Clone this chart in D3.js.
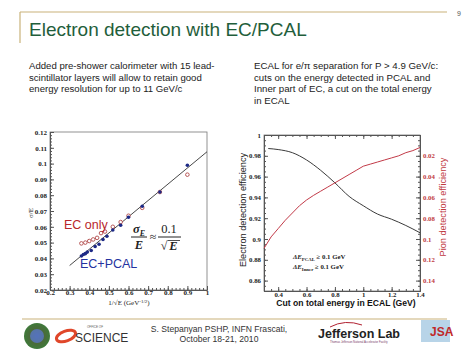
<!DOCTYPE html>
<html><head><meta charset="utf-8">
<script src="https://cdn.jsdelivr.net/npm/d3@7"></script>
<style>body{margin:0;background:#fff}svg{display:block}</style>
</head><body>
<svg id="c" width="474" height="355"></svg>
<script>
// ---------- data ----------
// Left chart: energy resolution vs 1/sqrt(E)
const invSqrtE_pcal = [0.36,0.37,0.38,0.39,0.41,0.43,0.45,0.47,0.49,0.52,0.56,0.60,0.67,0.76,0.90];
const sigma_pcal    = [0.0415,0.0425,0.043,0.044,0.045,0.0475,0.049,0.052,0.054,0.058,0.061,0.066,0.073,0.082,0.099];
const invSqrtE_ec   = [0.36,0.38,0.40,0.42,0.44,0.46,0.48,0.52,0.56,0.60,0.67,0.76,0.90];
const sigma_ec      = [0.0495,0.050,0.051,0.052,0.053,0.056,0.057,0.060,0.063,0.067,0.072,0.082,0.093];
const fitX = [0.3, 1.0];
const fitY = [0.0355, 0.1075];
const resXTicks = [0.2,0.3,0.4,0.5,0.6,0.7,0.8,0.9,1.0];
const resYTicks = [0.02,0.03,0.04,0.05,0.06,0.07,0.08,0.09,0.1,0.11,0.12];

// Right chart: efficiencies vs cut on total energy
const cutE_el   = [0.33,0.4,0.5,0.6,0.7,0.8,0.9,1.0,1.1,1.2,1.3,1.4];
const electronEff = [0.987,0.986,0.983,0.976,0.966,0.954,0.941,0.932,0.924,0.919,0.913,0.906];
const cutE_pi   = [0.3,0.35,0.4,0.45,0.5,0.55,0.6,0.65,0.7,0.75,0.8,0.85,0.9,0.95,1.0,1.05,1.1,1.15,1.2,1.25,1.3,1.35,1.4];
const pionEff   = [0.109,0.098,0.090,0.082,0.075,0.068,0.0625,0.058,0.054,0.050,0.046,0.042,0.038,0.034,0.030,0.028,0.026,0.024,0.022,0.020,0.017,0.015,0.012];
const cutTicks  = [0.4,0.6,0.8,1.0,1.2,1.4];
const elTicks   = [0.86,0.88,0.9,0.92,0.94,0.96,0.98,1.0];
const piTicks   = [0.02,0.04,0.06,0.08,0.1,0.12,0.14];

// ---------- page ----------
const svg = d3.select("#c");
const gold = "#c9b27a";
const green = "#1f5e3b";
const red = "#bf3a3f";
const navy = "#1d2a86";

// header decoration
svg.append("line").attr("x1",20).attr("x2",447).attr("y1",12).attr("y2",12).attr("stroke",gold).attr("stroke-width",1.2);
svg.append("line").attr("x1",20).attr("x2",20).attr("y1",12).attr("y2",43).attr("stroke",gold).attr("stroke-width",1.2);
svg.append("text").attr("x",457).attr("y",16).attr("font-family","Liberation Sans, Arial").attr("font-size",7).attr("fill","#555").text("9");
svg.append("text").attr("x",29).attr("y",36).attr("font-family","Liberation Sans, Arial").attr("font-size",19).attr("fill",green).text("Electron detection with EC/PCAL");

// body text
const bodyFont = "Liberation Sans, Arial";
const leftLines = ["Added pre-shower calorimeter with 15 lead-","scintillator layers will allow to retain good","energy resolution for up to 11 GeV/c"];
const rightLines = ["ECAL for e/\u03C0 separation for P > 4.9 GeV/c:","cuts on the energy detected in PCAL and","Inner part of EC, a cut on the total energy","in ECAL"];
leftLines.forEach((t,i)=>svg.append("text").attr("x",29).attr("y",69+i*11.6).attr("font-family",bodyFont).attr("font-size",9.6).attr("fill","#222").text(t));
rightLines.forEach((t,i)=>svg.append("text").attr("x",254).attr("y",69+i*11.6).attr("font-family",bodyFont).attr("font-size",9.7).attr("fill","#222").text(t));

// ---------- helpers ----------
const tickFont = "Liberation Serif, Times New Roman, serif";
function styleAxis(g, color, size){
  g.selectAll("path.domain").attr("stroke","#555");
  g.selectAll(".tick line").attr("stroke","#555");
  g.selectAll("text").attr("font-family",tickFont).attr("font-weight","bold").attr("font-size",size).attr("fill",color||"#222");
}
function minorVals(a,b,step){ const r=[]; const n=Math.round((b-a)/step); for(let i=0;i<=n;i++) r.push(+(a+i*step).toFixed(6)); return r; }

// ---------- left chart ----------
const xL = d3.scaleLinear([0.2,1.0],[50,207]);
const yL = d3.scaleLinear([0.02,0.12],[290,132]);
const L = svg.append("g");
L.append("rect").attr("x",50).attr("y",132).attr("width",157).attr("height",158).attr("fill","none").attr("stroke","#777").attr("stroke-width",0.8);
let g = L.append("g").attr("transform","translate(0,290)").call(d3.axisBottom(xL).tickValues(minorVals(0.2,1.0,0.02)).tickSize(-2).tickFormat("").tickSizeOuter(0)); styleAxis(g);
g = L.append("g").attr("transform","translate(0,290)").call(d3.axisBottom(xL).tickValues(resXTicks).tickSize(-4).tickPadding(0).tickFormat(d3.format("~g")).tickSizeOuter(0)); styleAxis(g,"#222",7);
g = L.append("g").attr("transform","translate(50,0)").call(d3.axisLeft(yL).tickValues(minorVals(0.02,0.12,0.002)).tickSize(-2).tickFormat("").tickSizeOuter(0)); styleAxis(g);
g = L.append("g").attr("transform","translate(50,0)").call(d3.axisLeft(yL).tickValues(resYTicks).tickSize(-4).tickPadding(3).tickFormat(d3.format("~g")).tickSizeOuter(0)); styleAxis(g,"#222",7);

L.append("path").datum(fitX.map((x,i)=>[x,fitY[i]])).attr("d",d3.line().x(d=>xL(d[0])).y(d=>yL(d[1]))).attr("stroke","#333").attr("stroke-width",0.9).attr("fill","none");
L.selectAll("circle.ec").data(invSqrtE_ec.map((x,i)=>[x,sigma_ec[i]])).join("circle").attr("class","ec")
  .attr("cx",d=>xL(d[0])).attr("cy",d=>yL(d[1])).attr("r",1.8).attr("fill","#fff").attr("stroke","#b04848").attr("stroke-width",0.9);
L.selectAll("circle.pc").data(invSqrtE_pcal.map((x,i)=>[x,sigma_pcal[i]])).join("circle").attr("class","pc")
  .attr("cx",d=>xL(d[0])).attr("cy",d=>yL(d[1])).attr("r",1.8).attr("fill",navy);

L.append("text").attr("x",64).attr("y",229).attr("font-family",bodyFont).attr("font-size",12.5).attr("fill","#b8262b").text("EC only");
L.append("text").attr("x",80).attr("y",268).attr("font-family",bodyFont).attr("font-size",12.5).attr("fill","#2432a0").text("EC+PCAL");
// axis titles
L.append("text").attr("transform","translate(33,213) rotate(-90)").attr("text-anchor","middle").attr("font-family",tickFont).attr("font-size",7).attr("fill","#222").text("\u03C3/E");
const xt = L.append("text").attr("x",129).attr("y",305).attr("text-anchor","middle").attr("font-family",tickFont).attr("font-size",7).attr("fill","#222");
xt.append("tspan").text("1/\u221AE (GeV");
xt.append("tspan").attr("dy",-2.5).attr("font-size",5).text("-1/2");
xt.append("tspan").attr("dy",2.5).text(")");

// equation
const eqF = "Liberation Serif, Times New Roman, serif";
const num = L.append("text").attr("x",139).attr("y",233).attr("text-anchor","middle").attr("font-family",eqF).attr("font-style","italic").attr("font-weight","bold").attr("font-size",12.5).attr("fill","#222");
num.append("tspan").text("\u03C3");
num.append("tspan").attr("dy",3).attr("font-size",8).text("E");
L.append("line").attr("x1",131).attr("x2",147).attr("y1",237).attr("y2",237).attr("stroke","#222").attr("stroke-width",1);
L.append("text").attr("x",139).attr("y",249).attr("text-anchor","middle").attr("font-family",eqF).attr("font-style","italic").attr("font-weight","bold").attr("font-size",12.5).attr("fill","#222").text("E");
L.append("text").attr("x",153).attr("y",241).attr("text-anchor","middle").attr("font-family",eqF).attr("font-size",12).attr("fill","#222").text("\u2248");
L.append("text").attr("x",169).attr("y",233).attr("text-anchor","middle").attr("font-family",eqF).attr("font-size",12.5).attr("fill","#222").text("0.1");
L.append("line").attr("x1",158).attr("x2",181).attr("y1",237).attr("y2",237).attr("stroke","#222").attr("stroke-width",1);
L.append("text").attr("x",164).attr("y",250).attr("text-anchor","middle").attr("font-family",eqF).attr("font-size",12).attr("fill","#222").text("\u221A");
L.append("line").attr("x1",167.5).attr("x2",180).attr("y1",240.5).attr("y2",240.5).attr("stroke","#222").attr("stroke-width",0.8);
L.append("text").attr("x",173.5).attr("y",250).attr("text-anchor","middle").attr("font-family",eqF).attr("font-style","italic").attr("font-weight","bold").attr("font-size",12.5).attr("fill","#222").text("E");

// ---------- right chart ----------
const xR = d3.scaleLinear([0.3,1.4],[264,420]);
const yE = d3.scaleLinear([0.85,1.0],[291,135]);
const yP = d3.scaleLinear([0,0.15],[135,291]);
const R = svg.append("g");
R.append("rect").attr("x",264).attr("y",135).attr("width",156).attr("height",156).attr("fill","none").attr("stroke","#777").attr("stroke-width",0.8);
g = R.append("g").attr("transform","translate(0,291)").call(d3.axisBottom(xR).tickValues(minorVals(0.3,1.4,0.05)).tickSize(-2).tickFormat("").tickSizeOuter(0)); styleAxis(g);
g = R.append("g").attr("transform","translate(0,291)").call(d3.axisBottom(xR).tickValues(cutTicks).tickSize(-4).tickPadding(1).tickFormat(d3.format("~g")).tickSizeOuter(0)); styleAxis(g,"#222",6.8);
g = R.append("g").attr("transform","translate(0,135)").call(d3.axisTop(xR).tickValues(minorVals(0.3,1.4,0.05)).tickSize(-2).tickFormat("").tickSizeOuter(0)); styleAxis(g);
g = R.append("g").attr("transform","translate(0,135)").call(d3.axisTop(xR).tickValues(cutTicks).tickSize(-4).tickFormat("").tickSizeOuter(0)); styleAxis(g);
g = R.append("g").attr("transform","translate(264,0)").call(d3.axisLeft(yE).tickValues(minorVals(0.85,1.0,0.005)).tickSize(-2).tickFormat("").tickSizeOuter(0)); styleAxis(g);
g = R.append("g").attr("transform","translate(264,0)").call(d3.axisLeft(yE).tickValues(elTicks).tickSize(-4).tickPadding(3).tickFormat(d3.format("~g")).tickSizeOuter(0)); styleAxis(g,"#222",6.8);
g = R.append("g").attr("transform","translate(420,0)").call(d3.axisRight(yP).tickValues(minorVals(0,0.15,0.005)).tickSize(-2).tickFormat("").tickSizeOuter(0)); styleAxis(g);
g = R.append("g").attr("transform","translate(420,0)").call(d3.axisRight(yP).tickValues(piTicks).tickSize(-4).tickPadding(3).tickFormat(d3.format("~g")).tickSizeOuter(0)); styleAxis(g,red,6.8);

R.append("path").datum(cutE_el.map((x,i)=>[x,electronEff[i]])).attr("d",d3.line().curve(d3.curveMonotoneX).x(d=>xR(d[0])).y(d=>yE(d[1]))).attr("stroke","#3a3a3a").attr("stroke-width",1).attr("fill","none");
R.append("path").datum(cutE_pi.map((x,i)=>[x,pionEff[i]])).attr("d",d3.line().x(d=>xR(d[0])).y(d=>yP(d[1]))).attr("stroke","#c23a48").attr("stroke-width",1).attr("fill","none");

function annot(y, sub){
  const t = R.append("text").attr("x",293).attr("y",y).attr("font-family",eqF).attr("font-weight","bold").attr("font-size",6.8).attr("fill","#222");
  t.append("tspan").attr("font-style","italic").text("\u0394E");
  t.append("tspan").attr("dy",1.5).attr("font-size",4.8).text(sub);
  t.append("tspan").attr("dy",-1.5).text(" \u2265 0.1 GeV");
}
annot(259,"PCAL");
annot(269,"Inner");

R.append("text").attr("transform","translate(246,210) rotate(-90)").attr("text-anchor","middle").attr("font-family",bodyFont).attr("font-size",9.2).attr("fill","#222").text("Electron detection efficiency");
R.append("text").attr("transform","translate(446,207) rotate(-90)").attr("text-anchor","middle").attr("font-family",bodyFont).attr("font-size",9.2).attr("fill",red).text("Pion detection efficiency");
R.append("text").attr("x",346).attr("y",306).attr("text-anchor","middle").attr("font-family",bodyFont).attr("font-weight","bold").attr("font-size",8.6).attr("fill","#111").text("Cut on total energy in ECAL (GeV)");

// ---------- footer ----------
svg.append("line").attr("x1",22).attr("x2",447).attr("y1",319).attr("y2",319).attr("stroke",gold).attr("stroke-width",1.2);
const defs = svg.append("defs");
const rg = defs.append("radialGradient").attr("id","seal");
rg.append("stop").attr("offset","0%").attr("stop-color","#3d5aa8");
rg.append("stop").attr("offset","55%").attr("stop-color","#4b6a3a");
rg.append("stop").attr("offset","100%").attr("stop-color","#3e7a3a");
svg.append("circle").attr("cx",37).attr("cy",336).attr("r",13).attr("fill","url(#seal)");
svg.append("circle").attr("cx",37).attr("cy",336).attr("r",7).attr("fill","#5a78c0").attr("opacity",0.8);
svg.append("ellipse").attr("cx",66).attr("cy",336).attr("rx",10).attr("ry",5).attr("fill","none").attr("stroke","#e0472a").attr("stroke-width",3).attr("transform","rotate(-20,66,336)");
svg.append("text").attr("x",75).attr("y",342).attr("font-family",bodyFont).attr("font-size",12).attr("fill","#333").text("SCIENCE");
svg.append("text").attr("x",87).attr("y",328).attr("font-family",bodyFont).attr("font-size",3).attr("fill","#555").text("OFFICE OF");
svg.append("text").attr("x",219).attr("y",332).attr("text-anchor","middle").attr("font-family",bodyFont).attr("font-size",8.6).attr("fill","#333").text("S. Stepanyan PSHP, INFN Frascati,");
svg.append("text").attr("x",219).attr("y",342).attr("text-anchor","middle").attr("font-family",bodyFont).attr("font-size",8.6).attr("fill","#333").text("October 18-21, 2010");
svg.append("text").attr("x",318).attr("y",338).attr("font-family",bodyFont).attr("font-weight","bold").attr("font-size",12.5).attr("fill","#222").text("Jefferson Lab");
svg.append("text").attr("x",330).attr("y",343).attr("font-family",bodyFont).attr("font-size",2.8).attr("fill","#7a3b6a").text("Thomas Jefferson National Accelerator Facility");
svg.append("path").attr("d","M330,327 Q345,319 362,325").attr("stroke","#b02030").attr("stroke-width",1).attr("fill","none");
svg.append("rect").attr("x",421).attr("y",320).attr("width",29).attr("height",22).attr("fill","#b8d4e8");
svg.append("text").attr("x",430).attr("y",336).attr("font-family",bodyFont).attr("font-weight","bold").attr("font-size",12).attr("fill","#c02828").text("JSA");
</script>
</body></html>
